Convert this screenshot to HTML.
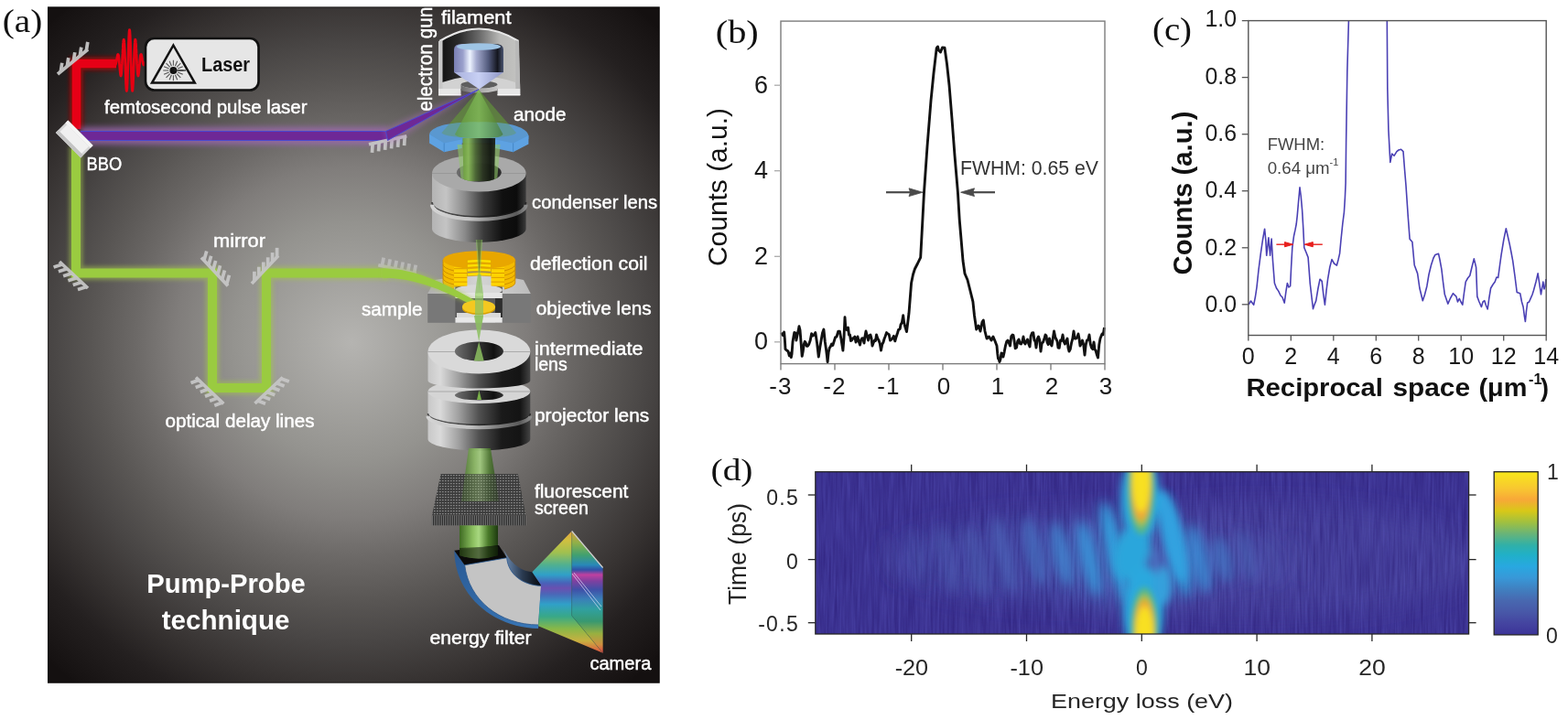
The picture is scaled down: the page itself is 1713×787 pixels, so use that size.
<!DOCTYPE html>
<html><head><meta charset="utf-8"><title>Ultrafast electron microscopy figure</title>
<style>html,body{margin:0;padding:0;background:#fff;width:1713px;height:787px;overflow:hidden}svg{display:block}</style>
</head><body>
<svg width="1713" height="787" viewBox="0 0 1713 787" font-family="'Liberation Sans', Arial, sans-serif">
<defs><radialGradient id="bgA" gradientUnits="userSpaceOnUse" cx="384" cy="374" r="480"><stop offset="0" stop-color="rgb(181, 180, 177)"/><stop offset="0.27" stop-color="rgb(148, 147, 143)"/><stop offset="0.4" stop-color="rgb(128, 125, 123)"/><stop offset="0.49" stop-color="rgb(108, 105, 103)"/><stop offset="0.59" stop-color="rgb(89, 86, 84)"/><stop offset="0.68" stop-color="rgb(73, 70, 69)"/><stop offset="0.78" stop-color="rgb(55, 51, 50)"/><stop offset="0.875" stop-color="rgb(36, 32, 32)"/><stop offset="0.99" stop-color="rgb(22, 18, 18)"/><stop offset="1" stop-color="rgb(20, 16, 16)"/></radialGradient><filter id="glow2" filterUnits="userSpaceOnUse" x="0" y="0" width="1713" height="787"><feGaussianBlur stdDeviation="2"/></filter><filter id="glow1" filterUnits="userSpaceOnUse" x="0" y="0" width="1713" height="787"><feGaussianBlur stdDeviation="0.7"/></filter><filter id="glow3" filterUnits="userSpaceOnUse" x="0" y="0" width="1713" height="787"><feGaussianBlur stdDeviation="3"/></filter><linearGradient id="sideDark" x1="0" y1="0" x2="1" y2="0"><stop offset="0" stop-color="#b4b4b4"/><stop offset="0.15" stop-color="#c4c4c4"/><stop offset="0.35" stop-color="#8a8a8a"/><stop offset="0.55" stop-color="#3a3a3a"/><stop offset="0.75" stop-color="#101010"/><stop offset="0.9" stop-color="#0c0c0c"/><stop offset="1" stop-color="#3a3a3a"/></linearGradient><linearGradient id="sideLight" x1="0" y1="0" x2="1" y2="0"><stop offset="0" stop-color="#c8c8c8"/><stop offset="0.12" stop-color="#dadada"/><stop offset="0.3" stop-color="#a0a0a0"/><stop offset="0.5" stop-color="#505050"/><stop offset="0.72" stop-color="#1a1a1a"/><stop offset="0.9" stop-color="#141414"/><stop offset="1" stop-color="#444"/></linearGradient><linearGradient id="grooveLight" x1="0" y1="0" x2="1" y2="0"><stop offset="0" stop-color="#d4d4d4"/><stop offset="0.4" stop-color="#c4c4c4"/><stop offset="0.7" stop-color="#7a7a7a"/><stop offset="0.9" stop-color="#5a5a5a"/><stop offset="1" stop-color="#8a8a8a"/></linearGradient><linearGradient id="holeG" x1="0" y1="0" x2="1" y2="0"><stop offset="0" stop-color="#707070"/><stop offset="0.4" stop-color="#3a3a3a"/><stop offset="0.8" stop-color="#111"/><stop offset="1" stop-color="#333"/></linearGradient><linearGradient id="gunIn" x1="0" y1="0" x2="1" y2="0"><stop offset="0" stop-color="#101010"/><stop offset="0.25" stop-color="#2a2a2a"/><stop offset="0.5" stop-color="#6a6a6a"/><stop offset="0.75" stop-color="#b8b8b6"/><stop offset="1" stop-color="#c4c4c2"/></linearGradient><linearGradient id="gunHole" x1="0" y1="0" x2="1" y2="0"><stop offset="0" stop-color="#6a6a6a"/><stop offset="0.5" stop-color="#a8a8a8"/><stop offset="1" stop-color="#c8c8c8"/></linearGradient><linearGradient id="filBody" x1="0" y1="0" x2="1" y2="0"><stop offset="0" stop-color="#7a80b4"/><stop offset="0.18" stop-color="#9aa0cc"/><stop offset="0.32" stop-color="#eef4ff"/><stop offset="0.45" stop-color="#a6acd0"/><stop offset="0.7" stop-color="#50587a"/><stop offset="0.88" stop-color="#14161e"/><stop offset="1" stop-color="#4a5470"/></linearGradient><linearGradient id="filCone" x1="0" y1="0" x2="1" y2="0"><stop offset="0" stop-color="#a8b0dc"/><stop offset="0.5" stop-color="#c8d0f4"/><stop offset="1" stop-color="#8c94c4"/></linearGradient><linearGradient id="beamCyl" x1="0" y1="0" x2="1" y2="0"><stop offset="0" stop-color="#3e6a22"/><stop offset="0.35" stop-color="#8cc060"/><stop offset="0.5" stop-color="#a8d880"/><stop offset="0.75" stop-color="#4a7a2a"/><stop offset="1" stop-color="#1e3a10"/></linearGradient><linearGradient id="beamCone" x1="0" y1="0" x2="1" y2="0"><stop offset="0" stop-color="#5c9a34"/><stop offset="0.5" stop-color="#8ed060"/><stop offset="1" stop-color="#3e7020"/></linearGradient><linearGradient id="beamCore" x1="0" y1="0" x2="1" y2="0"><stop offset="0" stop-color="#6c9c40"/><stop offset="0.18" stop-color="#86b656"/><stop offset="0.4" stop-color="#4a6434"/><stop offset="0.62" stop-color="#283020"/><stop offset="0.85" stop-color="#121610"/><stop offset="1" stop-color="#1e261a"/></linearGradient><linearGradient id="anodeSide" x1="0" y1="0" x2="1" y2="0"><stop offset="0" stop-color="#4a88c8"/><stop offset="0.5" stop-color="#3a78b8"/><stop offset="1" stop-color="#5a98d8"/></linearGradient><linearGradient id="prismG" gradientUnits="userSpaceOnUse" x1="0" y1="580" x2="0" y2="714"><stop offset="0" stop-color="#e8a040"/><stop offset="0.08" stop-color="#d0c040"/><stop offset="0.18" stop-color="#a0c050"/><stop offset="0.28" stop-color="#50b090"/><stop offset="0.36" stop-color="#30a0c8"/><stop offset="0.43" stop-color="#4a60b8"/><stop offset="0.47" stop-color="#6a50b0"/><stop offset="0.52" stop-color="#4a68b8"/><stop offset="0.6" stop-color="#30a0c8"/><stop offset="0.7" stop-color="#38a888"/><stop offset="0.8" stop-color="#88b848"/><stop offset="0.9" stop-color="#c8b040"/><stop offset="1" stop-color="#e05040"/></linearGradient><linearGradient id="prismR" gradientUnits="userSpaceOnUse" x1="0" y1="580" x2="0" y2="714"><stop offset="0" stop-color="#d8a040"/><stop offset="0.1" stop-color="#90b048"/><stop offset="0.2" stop-color="#40a070"/><stop offset="0.28" stop-color="#2888b8"/><stop offset="0.32" stop-color="#3050a8"/><stop offset="0.36" stop-color="#c040a0"/><stop offset="0.41" stop-color="#8040a0"/><stop offset="0.48" stop-color="#4050a8"/><stop offset="0.56" stop-color="#3a80b8"/><stop offset="0.64" stop-color="#30a0a0"/><stop offset="0.74" stop-color="#389870"/><stop offset="0.84" stop-color="#98b040"/><stop offset="0.93" stop-color="#d09040"/><stop offset="1" stop-color="#e04040"/></linearGradient><linearGradient id="efBlue" x1="0" y1="0" x2="1" y2="1"><stop offset="0" stop-color="#2a5a94"/><stop offset="1" stop-color="#3a78b8"/></linearGradient><linearGradient id="efInner" x1="0" y1="0" x2="1" y2="0"><stop offset="0" stop-color="#7090b8"/><stop offset="0.5" stop-color="#2a3a50"/><stop offset="1" stop-color="#05080c"/></linearGradient><pattern id="mesh" width="3" height="3" patternUnits="userSpaceOnUse"><rect width="3" height="3" fill="#3c3c3c"/><rect width="1.6" height="1.2" fill="#8a8a8a"/></pattern><pattern id="meshSide" width="2" height="4" patternUnits="userSpaceOnUse"><rect width="2" height="4" fill="#2a2a2a"/><rect width="1" height="4" fill="#707070"/></pattern><linearGradient id="objTop" x1="0" y1="0" x2="1" y2="0"><stop offset="0" stop-color="#b0b0b0"/><stop offset="0.5" stop-color="#d4d4d4"/><stop offset="1" stop-color="#bcbcbc"/></linearGradient></defs>
<rect width="1713" height="787" fill="#fff"/>
<rect x="52" y="7.4" width="668.7" height="739.3" fill="url(#bgA)"/>
<rect x="52.7" y="8.1" width="667.3" height="737.9" fill="none" stroke="#000" stroke-width="1.4" opacity="0.3"/>
<path d="M83.5,141 L83.5,69.5 L127,69.5" fill="none" stroke="#8a0a10" stroke-width="15" stroke-linejoin="miter" filter="url(#glow2)" opacity="0.9"/>
<path d="M83.5,141 L83.5,69.5 L127,69.5" fill="none" stroke="#e60012" stroke-width="9.6" stroke-linejoin="miter" filter="url(#glow1)"/>
<polyline points="124,67.7 124.1,68 124.3,68.4 124.4,68.8 124.6,69.1 124.7,69.5 124.9,69.8 125,70.2 125.2,70.5 125.3,70.7 125.5,70.9 125.6,71 125.8,71.1 125.9,71.1 126.1,70.9 126.2,70.7 126.3,70.4 126.5,70.1 126.6,69.6 126.8,69 126.9,68.4 127.1,67.6 127.2,66.8 127.4,66 127.5,65.1 127.7,64.3 127.8,63.4 128,62.6 128.1,61.8 128.2,61.1 128.4,60.5 128.5,60 128.7,59.6 128.8,59.4 129,59.4 129.1,59.5 129.3,59.9 129.4,60.4 129.6,61.1 129.7,62.1 129.9,63.2 130,64.5 130.2,65.9 130.3,67.5 130.4,69.1 130.6,70.8 130.7,72.6 130.9,74.3 131,76 131.2,77.6 131.3,79 131.5,80.3 131.6,81.4 131.8,82.2 131.9,82.7 132.1,82.9 132.2,82.8 132.3,82.3 132.5,81.5 132.6,80.3 132.8,78.8 132.9,77 133.1,74.9 133.2,72.5 133.4,69.9 133.5,67.1 133.7,64.3 133.8,61.3 134,58.4 134.1,55.6 134.3,52.9 134.4,50.4 134.5,48.2 134.7,46.4 134.8,44.9 135,43.8 135.1,43.3 135.3,43.2 135.4,43.7 135.6,44.7 135.7,46.2 135.9,48.3 136,50.8 136.2,53.7 136.3,57 136.4,60.7 136.6,64.6 136.7,68.6 136.9,72.8 137,76.9 137.2,80.9 137.3,84.7 137.5,88.3 137.6,91.5 137.8,94.2 137.9,96.4 138.1,98.1 138.2,99.1 138.4,99.4 138.5,99.1 138.6,98.2 138.8,96.5 138.9,94.2 139.1,91.3 139.2,87.9 139.4,84 139.5,79.7 139.7,75.1 139.8,70.3 140,65.4 140.1,60.5 140.3,55.7 140.4,51.1 140.5,46.9 140.7,43 140.8,39.7 141,36.9 141.1,34.8 141.3,33.3 141.4,32.6 141.6,32.6 141.7,33.3 141.9,34.8 142,36.9 142.2,39.7 142.3,43 142.5,46.9 142.6,51.1 142.7,55.7 142.9,60.5 143,65.4 143.2,70.3 143.3,75.1 143.5,79.7 143.6,84 143.8,87.9 143.9,91.3 144.1,94.2 144.2,96.5 144.4,98.2 144.5,99.1 144.6,99.4 144.8,99.1 144.9,98.1 145.1,96.4 145.2,94.2 145.4,91.5 145.5,88.3 145.7,84.7 145.8,80.9 146,76.9 146.1,72.8 146.3,68.6 146.4,64.6 146.6,60.7 146.7,57 146.8,53.7 147,50.8 147.1,48.3 147.3,46.2 147.4,44.7 147.6,43.7 147.7,43.2 147.9,43.3 148,43.8 148.2,44.9 148.3,46.4 148.5,48.2 148.6,50.4 148.7,52.9 148.9,55.6 149,58.4 149.2,61.3 149.3,64.3 149.5,67.1 149.6,69.9 149.8,72.5 149.9,74.9 150.1,77 150.2,78.8 150.4,80.3 150.5,81.5 150.7,82.3 150.8,82.8 150.9,82.9 151.1,82.7 151.2,82.2 151.4,81.4 151.5,80.3 151.7,79 151.8,77.6 152,76 152.1,74.3 152.3,72.6 152.4,70.8 152.6,69.1 152.7,67.5 152.8,65.9 153,64.5 153.1,63.2 153.3,62.1 153.4,61.1 153.6,60.4 153.7,59.9 153.9,59.5 154,59.4 154.2,59.4 154.3,59.6 154.5,60 154.6,60.5 154.8,61.1 154.9,61.8 155,62.6 155.2,63.4 155.3,64.3 155.5,65.1 155.6,66 155.8,66.8 155.9,67.6 156.1,68.4 156.2,69 156.4,69.6 156.5,70.1 156.7,70.4 156.8,70.7 156.9,70.9 157.1,71.1 157.2,71.1 157.4,71 157.5,70.9 157.7,70.7 157.8,70.5 158,70.2 158.1,69.8 158.3,69.5 158.4,69.1 158.6,68.8 158.7,68.4 158.9,68 159,67.7" fill="none" stroke="#e60012" stroke-width="2.8" stroke-linejoin="round"/>
<path d="M88,148.5 L423,148.5" fill="none" stroke="#a068b8" stroke-width="19" stroke-linejoin="miter" filter="url(#glow3)" opacity="0.75"/>
<path d="M88,148.5 L423,148.5" fill="none" stroke="#4a4ad0" stroke-width="11" stroke-linejoin="miter"/>
<path d="M88,148.5 L423,148.5" fill="none" stroke="#6e2896" stroke-width="9" stroke-linejoin="miter"/>
<path d="M83,160 L83,298.5 L232,298.5 L232,424 L291,424 L291,298.5 L424,298.5" fill="none" stroke="#a4c450" stroke-width="15" stroke-linejoin="miter" filter="url(#glow2)" opacity="0.55"/>
<path d="M83,160 L83,298.5 L232,298.5 L232,424 L291,424 L291,298.5 L424,298.5" fill="none" stroke="#9acb40" stroke-width="10" stroke-linejoin="miter" filter="url(#glow1)"/>
<g stroke="#c6c6c6" stroke-width="3.7" opacity="0.95" stroke-linecap="butt"><line x1="63" y1="81" x2="96" y2="54"/><line x1="66.3" y1="78.3" x2="67.8" y2="68.8"/><line x1="73.3" y1="72.6" x2="74.8" y2="63.1"/><line x1="80.3" y1="66.8" x2="81.8" y2="57.3"/><line x1="87.3" y1="61.1" x2="88.8" y2="51.6"/><line x1="94.3" y1="55.4" x2="95.8" y2="45.9"/></g>
<g stroke="#c6c6c6" stroke-width="3.7" opacity="0.95" stroke-linecap="butt"><line x1="65" y1="286" x2="96" y2="315"/><line x1="68.1" y1="288.9" x2="58.6" y2="291.9"/><line x1="73.4" y1="293.8" x2="63.9" y2="296.8"/><line x1="78.6" y1="298.8" x2="69.1" y2="301.8"/><line x1="83.9" y1="303.7" x2="74.4" y2="306.7"/><line x1="89.2" y1="308.6" x2="79.7" y2="311.6"/><line x1="94.5" y1="313.6" x2="85" y2="316.6"/></g>
<g stroke="#c6c6c6" stroke-width="3.7" opacity="0.95" stroke-linecap="butt"><line x1="220" y1="281.5" x2="249" y2="312.5"/><line x1="222.9" y1="284.6" x2="225.7" y2="274.5"/><line x1="227.8" y1="289.9" x2="230.6" y2="279.8"/><line x1="232.8" y1="295.1" x2="235.6" y2="285"/><line x1="237.7" y1="300.4" x2="240.5" y2="290.3"/><line x1="242.6" y1="305.7" x2="245.4" y2="295.6"/><line x1="247.6" y1="310.9" x2="250.4" y2="300.8"/></g>
<g stroke="#c6c6c6" stroke-width="3.7" opacity="0.95" stroke-linecap="butt"><line x1="275" y1="310" x2="304" y2="279.5"/><line x1="277.9" y1="306.9" x2="277.9" y2="296.8"/><line x1="282.8" y1="301.8" x2="282.8" y2="291.7"/><line x1="287.8" y1="296.6" x2="287.8" y2="286.5"/><line x1="292.7" y1="291.4" x2="292.7" y2="281.3"/><line x1="297.6" y1="286.2" x2="297.6" y2="276.1"/><line x1="302.6" y1="281" x2="302.6" y2="270.9"/></g>
<g stroke="#c6c6c6" stroke-width="3.7" opacity="0.95" stroke-linecap="butt"><line x1="214" y1="412.5" x2="244.3" y2="441.4"/><line x1="217" y1="415.4" x2="208.5" y2="418.6"/><line x1="222.2" y1="420.3" x2="213.7" y2="423.5"/><line x1="227.3" y1="425.2" x2="218.8" y2="428.4"/><line x1="232.5" y1="430.1" x2="224" y2="433.3"/><line x1="237.6" y1="435" x2="229.1" y2="438.2"/><line x1="242.8" y1="440" x2="234.3" y2="443.2"/></g>
<g stroke="#c6c6c6" stroke-width="3.7" opacity="0.95" stroke-linecap="butt"><line x1="278.5" y1="441" x2="308.8" y2="412.5"/><line x1="281.5" y1="438.1" x2="290" y2="441.3"/><line x1="286.7" y1="433.3" x2="295.2" y2="436.5"/><line x1="291.8" y1="428.5" x2="300.3" y2="431.7"/><line x1="297" y1="423.6" x2="305.5" y2="426.8"/><line x1="302.1" y1="418.8" x2="310.6" y2="422"/><line x1="307.3" y1="413.9" x2="315.8" y2="417.1"/></g>
<g stroke="#c6c6c6" stroke-width="3.7" opacity="0.95" stroke-linecap="butt"><line x1="403" y1="157.7" x2="444.3" y2="148.7"/><line x1="407.1" y1="156.8" x2="406.5" y2="166.9"/><line x1="414.2" y1="155.3" x2="413.6" y2="165.4"/><line x1="421.2" y1="153.7" x2="420.6" y2="163.8"/><line x1="428.2" y1="152.2" x2="427.6" y2="162.3"/><line x1="435.2" y1="150.7" x2="434.6" y2="160.8"/><line x1="442.2" y1="149.1" x2="441.6" y2="159.2"/></g>
<g stroke="#c6c6c6" stroke-width="3.7" opacity="0.7" stroke-linecap="butt"><line x1="413.3" y1="289.7" x2="454.6" y2="299.2"/><line x1="417.4" y1="290.6" x2="419.1" y2="281.6"/><line x1="424.5" y1="292.3" x2="426.2" y2="283.3"/><line x1="431.5" y1="293.9" x2="433.2" y2="284.9"/><line x1="438.5" y1="295.5" x2="440.2" y2="286.5"/><line x1="445.5" y1="297.1" x2="447.2" y2="288.1"/><line x1="452.5" y1="298.7" x2="454.2" y2="289.7"/></g>
<g transform="rotate(45 81.25 152)"><rect x="61.9" y="142.5" width="38.7" height="19" fill="#d6d6d6"/><rect x="61.9" y="142.5" width="38.7" height="4" fill="#f4f4f4"/><rect x="61.9" y="157.5" width="38.7" height="4" fill="#c4c4c4"/><rect x="64.5" y="146.5" width="33.5" height="11" fill="#f0f0f0"/></g>
<rect x="159" y="42" width="123.5" height="56.5" rx="9.5" fill="#e6e6e6" stroke="#111" stroke-width="2.6"/>
<path d="M189.4,49.5 L212.8,90.6 L166,90.6 Z" fill="none" stroke="#111" stroke-width="2.5" stroke-linejoin="miter"/>
<path d="M194.6,77 L200.6,77 M194.2,79 L199.7,81.3 M193.1,80.7 L197.3,84.9 M191.4,81.8 L193.7,87.3 M189.4,82.2 L189.4,88.2 M187.4,81.8 L185.1,87.3 M185.7,80.7 L181.5,84.9 M184.6,79 L179.1,81.3 M184.2,77 L178.2,77 M184.6,75 L179.1,72.7 M185.7,73.3 L181.5,69.1 M187.4,72.2 L185.1,66.7 M189.4,71.8 L189.4,65.8 M191.4,72.2 L193.7,66.7 M193.1,73.3 L197.3,69.1 M194.2,75 L199.7,72.7" stroke="#555" stroke-width="1.1" fill="none"/>
<circle cx="189.4" cy="77" r="4" fill="#111"/>
<path d="M189.4,77 L203,77" stroke="#222" stroke-width="1.2"/>
<text x="220" y="78.3" font-size="22.5" fill="#111" font-weight="bold" textLength="53" lengthAdjust="spacingAndGlyphs">Laser</text>
<path d="M479,97 L480.3,45 Q523,18 566.5,45 L568.3,97 Z" fill="url(#gunIn)"/>
<path d="M480.3,45 Q523,18 566.5,45" fill="none" stroke="#e8e8e8" stroke-width="2.2"/>
<path d="M483,90 Q523,76 563,90 L563.5,97 L483,97 Z" fill="#d2d2d2"/>
<ellipse cx="523.5" cy="92.5" rx="20" ry="4.2" fill="#5e5e5e"/>
<path d="M479,45 L483.5,44 L483.5,97 L479,104 Z" fill="#c8c8c8"/>
<path d="M563,44 L567,45 L568.3,104 L563.5,97 Z" fill="#b8b8b8"/>
<path d="M479,97 L503.5,97 L503.5,104 L479,104 Z M543.5,97 L568.3,97 L568.3,104 L543.5,104 Z" fill="#e6e6e6"/>
<path d="M479,103 L503.5,103 L503.5,104.5 L479,104.5 Z M543.5,103 L568.3,103 L568.3,104.5 L543.5,104.5 Z" fill="#fafafa"/>
<path d="M503.5,92.5 A20,4.2 0 0 0 543.5,92.5 L543.5,99 Q523.5,104 503.5,99 Z" fill="url(#gunHole)"/>
<path d="M496,54 Q496,48 505,48 L541,48 Q550,48 550,54 L550,79 L496,79 Z" fill="url(#filBody)"/>
<ellipse cx="523" cy="51" rx="24" ry="3.8" fill="#9ec4e4"/>
<path d="M496,79 L550,79 L523.5,97.5 Z" fill="url(#filCone)"/>
<path d="M420,141 L523,97 L426,158 Z" fill="#b070c0" filter="url(#glow3)" opacity="0.45"/>
<path d="M421.5,143.5 L523,97.8 L423.5,153.5 Z" fill="#6e2896" stroke="#4a4ad0" stroke-width="1"/>
<path d="M523,98 L564,145.3 A41,6 0 0 1 482.4,145.3 Z" fill="#5a8a34" opacity="0.5"/>
<path d="M469.1,146.7 L469.1,151 L485.2,160.5 L504.7,156.3 L541,156.3 L560.6,160.5 L577.4,152 L577.4,148 Z" fill="#4e90d8"/>
<path d="M469.1,146.7 C472,136 500,133 523,133.4 C548,133 575,137 577.4,148 L560.6,156.5 L541,152.3 L504.7,152.3 L485.2,156.5 Z" fill="#5a98d0"/>
<path d="M523,98 L564,145.3 A41,6 0 0 1 482.4,145.3 Z" fill="#6a9a40" opacity="0.35"/>
<path d="M523,98 L549.5,146.7 A26.3,5.5 0 0 1 497,146.7 Z" fill="url(#beamCone)" opacity="0.6"/>
<path d="M469.1,146.7 L485.2,156.5 L504.7,152.3 L504.7,162 L485.2,166.3 L469.1,156.5 Z" fill="#5ea2e2"/>
<path d="M541,152.3 L560.6,156.5 L577.4,148 L577.4,157.5 L560.6,166.3 L541,162 Z" fill="#5ea2e2"/>
<path d="M485.2,156.5 L485.2,166.3" stroke="#3f80c0" stroke-width="0.8"/><path d="M560.6,156.5 L560.6,166.3" stroke="#3f80c0" stroke-width="0.8"/>
<path d="M472,189.4 L472,250 A51.3,15 0 0 0 574.6,250 L574.6,189.4 Z" fill="url(#sideDark)"/><path d="M472,221 A51.3,16 0 0 0 574.6,221" fill="none" stroke="#1a1a1a" stroke-width="1.6" opacity="0.7"/><path d="M472,223.8 A51.3,16 0 0 0 574.6,223.8" fill="none" stroke="url(#grooveLight)" stroke-width="4"/><ellipse cx="523.3" cy="189.4" rx="51.3" ry="20" fill="#a9a9a9"/><line x1="472" y1="189.4" x2="574.6" y2="189.4" stroke="#888" stroke-width="0.8" opacity="0.7"/><ellipse cx="523.3" cy="188.5" rx="24.5" ry="10.2" fill="url(#holeG)"/>
<clipPath id="condClip"><rect x="400" y="100" width="200" height="88.5"/><ellipse cx="523.3" cy="188.5" rx="24.5" ry="10.2"/></clipPath>
<g clip-path="url(#condClip)">
<path d="M499.5,158 L546.5,158 L543,198 L504,198 Z" fill="#90c868" opacity="0.6"/>
<path d="M505.4,151 L541.1,151 L540,198 L506.5,198 Z" fill="url(#beamCore)" opacity="0.95"/>
</g>
<path d="M467.2,321 L475,306 Q523.5,296 572,306 L579.8,321 Z" fill="url(#objTop)"/>
<rect x="467.2" y="321" width="112.6" height="31.8" fill="#787878"/>
<rect x="497.4" y="313" width="51.4" height="39.8" fill="#5c5c5c"/>
<ellipse cx="523.1" cy="317" rx="25.7" ry="6" fill="#d8d8d8"/>
<rect x="497.4" y="320" width="51.4" height="6" fill="#e4e4e4"/>
<rect x="541" y="326" width="7.8" height="26.8" fill="#2e2e2e"/>
<rect x="499" y="342" width="48" height="5" fill="#dadada"/><rect x="497.4" y="347" width="51.4" height="5.8" fill="#e8e8e8"/>
<defs><pattern id="coilStripe" width="10" height="4.8" patternUnits="userSpaceOnUse" y="294.2"><rect width="10" height="4.8" fill="#ffd400"/><rect y="3.9" width="10" height="0.9" fill="#d89400"/></pattern></defs>
<clipPath id="coilClip"><rect x="0" y="0" width="496" height="787"/><rect x="551" y="0" width="300" height="787"/><rect x="0" y="0" width="1713" height="293.5"/></clipPath>
<g clip-path="url(#coilClip)">
<path d="M484,304 L484,309 A39.4,9.8 0 0 0 562.8,309 L562.8,304 Z" fill="#f4bc00" stroke="#c88a00" stroke-width="0.9"/>
<path d="M484,299 L484,304 A39.4,9.8 0 0 0 562.8,304 L562.8,299 Z" fill="#f4bc00" stroke="#c88a00" stroke-width="0.9"/>
<path d="M484,294 L484,299 A39.4,9.8 0 0 0 562.8,299 L562.8,294 Z" fill="#f4bc00" stroke="#c88a00" stroke-width="0.9"/>
<path d="M484,289 L484,294 A39.4,9.8 0 0 0 562.8,294 L562.8,289 Z" fill="#f4bc00" stroke="#c88a00" stroke-width="0.9"/>
<path d="M484,284 L484,289 A39.4,9.8 0 0 0 562.8,289 L562.8,284 Z" fill="#f4bc00" stroke="#c88a00" stroke-width="0.9"/>
<ellipse cx="523.4" cy="284" rx="39.4" ry="9.8" fill="#e8a600"/>
</g>
<path d="M496,292 L510.4,293.5 L510.4,312.5 L496,313.8 Z" fill="url(#coilStripe)"/>
<path d="M536.5,293.5 L551,292 L551,313.8 L536.5,312.5 Z" fill="url(#coilStripe)"/>
<path d="M510.4,284.2 Q523.4,282.6 536.5,284.2 L536.5,287.4 Q523.4,286 510.4,287.4 Z" fill="#ffe000" stroke="#d89a00" stroke-width="0.6"/>
<path d="M510.4,289 Q523.4,287.4 536.5,289 L536.5,292.2 Q523.4,290.8 510.4,292.2 Z" fill="#ffe000" stroke="#d89a00" stroke-width="0.6"/>
<path d="M510.4,293.8 Q523.4,292.2 536.5,293.8 L536.5,297 Q523.4,295.6 510.4,297 Z" fill="#ffe000" stroke="#d89a00" stroke-width="0.6"/>
<path d="M510.4,298.6 Q523.4,297 536.5,298.6 L536.5,301.8 Q523.4,300.4 510.4,301.8 Z" fill="#ffe000" stroke="#d89a00" stroke-width="0.6"/>
<path d="M519.8,262 L527.2,262 L523.6,318 Z" fill="#8cc060" opacity="0.55"/>
<path d="M521.2,262 L525.8,262 L523.6,300 Z" fill="#3a4a2a" opacity="0.5"/>
<path d="M418,292 C448,292 478,303 521,328.5 L519,336.5 C484,318 454,305.5 418,305 Z" fill="#a4c450" opacity="0.5" filter="url(#glow2)"/>
<path d="M418,293.5 C448,293.5 478,304.5 520.5,329.5 L519,335 C484,317 454,304 418,303.5 Z" fill="#9acb40" filter="url(#glow1)"/>
<ellipse cx="523" cy="337" rx="18" ry="7.2" fill="#d8a000"/>
<ellipse cx="523" cy="335.3" rx="18" ry="7.2" fill="#f4c820"/>
<path d="M521.8,300 L525.4,300 L528,322 L528,345 L526.8,353 L520,353 L519,345 L519,322 Z" fill="#8cc060" opacity="0.72"/>
<ellipse cx="523.5" cy="322" rx="4.5" ry="1.8" fill="#b8e090" opacity="0.8"/>
<path d="M467.5,428 L467.5,480 A55.9,12.4 0 0 0 579.3,480 L579.3,428 Z" fill="url(#sideLight)"/><path d="M467.5,452 A55.9,12.4 0 0 0 579.3,452" fill="none" stroke="#1a1a1a" stroke-width="1.6" opacity="0.7"/><path d="M467.5,454.8 A55.9,12.4 0 0 0 579.3,454.8" fill="none" stroke="url(#grooveLight)" stroke-width="4"/><ellipse cx="523.4" cy="428" rx="55.9" ry="13" fill="#d5d5d5"/><line x1="467.5" y1="428" x2="579.3" y2="428" stroke="#888" stroke-width="0.8" opacity="0.7"/><ellipse cx="523.4" cy="432" rx="26.5" ry="5.5" fill="url(#holeG)"/>
<path d="M523.4,426.5 L526,437 L521,437 Z" fill="#7ab04a"/>
<path d="M467.5,384.5 L467.5,416 A55.9,8.5 0 0 0 579.3,416 L579.3,384.5 Z" fill="url(#sideLight)"/><ellipse cx="523.4" cy="384.5" rx="55.9" ry="24" fill="#d9d9d9"/><line x1="467.5" y1="384.5" x2="579.3" y2="384.5" stroke="#888" stroke-width="0.8" opacity="0.7"/><ellipse cx="523.4" cy="384" rx="26.6" ry="10.5" fill="url(#holeG)"/>
<path d="M517.9,345 L528,345 L523.2,373.6 Z" fill="#8cc060" opacity="0.85"/>
<path d="M523.2,373.6 L517.9,394.6 L528.7,394.6 Z" fill="#8cc060" opacity="0.85"/>
<path d="M512,490 L536,490 L545,548 L504,548 Z" fill="url(#beamCyl)" opacity="0.8"/>
<path d="M481.6,518.1 L565.9,518.1 L574.5,563.5 L471.9,563.5 Z" fill="url(#mesh)"/>
<rect x="471.9" y="563.5" width="102.6" height="10.8" fill="url(#meshSide)"/>
<path d="M508,518.1 L541,518.1 L545,548 L504,548 Z" fill="url(#beamCyl)" opacity="0.35"/>
<rect x="502" y="574.3" width="42" height="32" fill="url(#beamCyl)"/>
<path d="M496.3,601.7 L507.7,617.7 C512,655 545,683 588.4,683 L588,687 C540,686 497,652 496.3,601.7 Z" fill="url(#efBlue)"/>
<path d="M496.3,601.7 L545,596 L553.7,609.7 L507.7,617.7 Z" fill="#0a0a0a"/>
<path d="M502,599 L544,597 L544,607 Q523,614 502,607 Z" fill="url(#beamCyl)" opacity="0.9"/>
<path d="M502,599 L544,597 L544,607 Q523,614 502,607 Z" fill="#000" opacity="0.45"/>
<path d="M553.7,609.7 C555,628 572,640 591.7,640.4 L581.4,625.2 C566,624 556,612 550,600 Z" fill="url(#efInner)"/>
<path d="M507.7,617.7 L553.7,609.7 C555,628 572,640 591.7,640.4 L588.4,683 C545,683 512,655 507.7,617.7 Z" fill="#c4c4c4" stroke="#2a5a94" stroke-width="0.8"/>
<path d="M624.7,580.5 L581.4,625.2 L591,639.5 L588.1,684.3 L658.6,713.8 L624.7,673 Z" fill="url(#prismG)"/>
<path d="M624.7,580.5 L658.6,620.5 L658.6,713.8 L624.7,673 Z" fill="url(#prismR)"/>
<path d="M624.7,580.5 L624.7,673 L658.6,713.8" fill="none" stroke="#2a6a60" stroke-width="0.6" opacity="0.5"/>
<path d="M624.7,580.5 L658.6,620.5" stroke="#cfcfcf" stroke-width="1.2"/>
<path d="M625,627 L656,667 M627,626 L657,663" stroke="#e8e8ff" stroke-width="0.8" opacity="0.8"/>
<text x="114" y="124" font-size="20.5" fill="#fff" stroke="#fff" stroke-width="0.45" textLength="221.5" lengthAdjust="spacingAndGlyphs">femtosecond pulse laser</text>
<text x="94.6" y="185.8" font-size="20.5" fill="#fff" stroke="#fff" stroke-width="0.45" textLength="38.5" lengthAdjust="spacingAndGlyphs">BBO</text>
<text x="233" y="270.3" font-size="20.5" fill="#fff" stroke="#fff" stroke-width="0.45" textLength="57" lengthAdjust="spacingAndGlyphs">mirror</text>
<text x="180.5" y="467" font-size="20.5" fill="#fff" stroke="#fff" stroke-width="0.45" textLength="163" lengthAdjust="spacingAndGlyphs">optical delay lines</text>
<text x="395" y="345" font-size="20.5" fill="#fff" stroke="#fff" stroke-width="0.45" textLength="66.5" lengthAdjust="spacingAndGlyphs">sample</text>
<text x="482" y="26.3" font-size="20.5" fill="#fff" stroke="#fff" stroke-width="0.45" textLength="76.5" lengthAdjust="spacingAndGlyphs">filament</text>
<text transform="translate(472.3,121.8) rotate(-90)" font-size="22.5" fill="#fff" stroke="#fff" stroke-width="0.45" textLength="114" lengthAdjust="spacingAndGlyphs">electron gun</text>
<text x="561" y="131.6" font-size="20.5" fill="#fff" stroke="#fff" stroke-width="0.45" textLength="57.5" lengthAdjust="spacingAndGlyphs">anode</text>
<text x="581.1" y="227.7" font-size="20.5" fill="#fff" stroke="#fff" stroke-width="0.45" textLength="137" lengthAdjust="spacingAndGlyphs">condenser lens</text>
<text x="578.9" y="294.9" font-size="20.5" fill="#fff" stroke="#fff" stroke-width="0.45" textLength="128.5" lengthAdjust="spacingAndGlyphs">deflection coil</text>
<text x="585.7" y="343.8" font-size="20.5" fill="#fff" stroke="#fff" stroke-width="0.45" textLength="126" lengthAdjust="spacingAndGlyphs">objective lens</text>
<text x="583.9" y="388.3" font-size="20.5" fill="#fff" stroke="#fff" stroke-width="0.45" textLength="118.5" lengthAdjust="spacingAndGlyphs">intermediate</text>
<text x="583.9" y="405.2" font-size="20.5" fill="#fff" stroke="#fff" stroke-width="0.45" textLength="35.8" lengthAdjust="spacingAndGlyphs">lens</text>
<text x="583.9" y="461.1" font-size="20.5" fill="#fff" stroke="#fff" stroke-width="0.45" textLength="125.3" lengthAdjust="spacingAndGlyphs">projector lens</text>
<text x="583.9" y="543.9" font-size="20.5" fill="#fff" stroke="#fff" stroke-width="0.45" textLength="102.5" lengthAdjust="spacingAndGlyphs">fluorescent</text>
<text x="583.9" y="561.7" font-size="20.5" fill="#fff" stroke="#fff" stroke-width="0.45" textLength="59" lengthAdjust="spacingAndGlyphs">screen</text>
<text x="469.4" y="703.5" font-size="20.5" fill="#fff" stroke="#fff" stroke-width="0.45" textLength="111.3" lengthAdjust="spacingAndGlyphs">energy filter</text>
<text x="644.4" y="731.6" font-size="20.5" fill="#fff" stroke="#fff" stroke-width="0.45" textLength="67" lengthAdjust="spacingAndGlyphs">camera</text>
<text x="160.2" y="648.1" font-size="29.5" fill="#fff" font-weight="bold" textLength="173.5" lengthAdjust="spacingAndGlyphs">Pump-Probe</text>
<text x="176.7" y="688.1" font-size="29.5" fill="#fff" font-weight="bold" textLength="139.8" lengthAdjust="spacingAndGlyphs">technique</text>
<text x="2.8" y="34.5" font-family="'Liberation Serif', serif" font-size="36.5" fill="#111" textLength="43.5" lengthAdjust="spacingAndGlyphs">(a)</text>
<polyline points="853.8,363.6 854.5,365.5 855.2,366.4 855.9,366.7 856.6,362.9 857.3,370.2 858,381.7 859.5,383 861,384 862.3,388.9 863.6,386 864.3,390.6 865,387.3 866,373.8 867,367.8 867.8,363.5 868.5,365 869.2,364 869.9,372 871,366.5 872,362.2 873,356.8 874,360.8 875.1,374.7 876.2,389.4 877.2,384.3 878.3,376.2 879.3,373.3 880.3,374.8 881.3,378.3 882.4,378.3 883.8,376.1 885.2,372 886.6,364.7 888,367 889.4,365.9 890.8,363.6 892.5,374.4 894.3,390.1 895.7,380.2 897.1,372 898.5,363.9 899.9,360.1 901.3,373.5 902.7,383.1 903.4,388.8 904.1,395.7 905.2,384.6 906.2,380.3 907.4,378.6 908.5,376 909.8,377.5 911.1,373.4 912.5,368.8 914,368 915.7,362.3 917.4,362.2 919.1,371.5 920.9,383.1 922,369.3 923,346.8 923.8,358.2 924.5,360 925.5,360.7 926.5,358 927.5,366 928.5,366 929.5,372.5 930.5,372 931.5,369.8 932.5,370 933.8,367.9 935,374 936,372.5 937,368 938.2,373.1 939.5,377 940.5,372.1 941.5,370 942.8,369.8 944,375 945,367.6 946,362 947.2,366.7 948.5,372 949.8,366.7 951,366 952,369.9 953,378 954.2,374.6 955.5,372 956.5,372.6 957.5,366 958.8,369.9 960,372 961.2,375.3 962.5,383 963.8,376.3 965,374 966,370.5 967,368 968.5,363.6 970,365 971.2,365.5 972.5,372 973.8,371.1 975,370 976.4,367.3 977.8,372.8 979.1,368.2 980.5,364 981.5,360.6 982.5,360 983.2,359.6 984,355 985.4,352.4 986.7,344.8 987.6,352.3 988.5,356 990.5,362.6 993,342.3 995.6,309.2 997.5,300 999.4,294 1002.5,288 1005.7,281.3 1007.5,248 1009.5,210.2 1013,160 1017,110 1020,80 1023.2,52.7 1024.5,51 1025.5,55 1027.5,57 1029.5,52 1032,52.2 1034.5,70 1037,93 1040,130 1043,170 1046.4,210.2 1048.2,240 1050.2,263.5 1052,285 1054,299 1057,306 1060,318 1062.9,329.6 1064.5,345 1066.7,360 1069,356 1071,362 1073,352 1074.3,350 1076,362 1078,370 1080.5,368 1083,372 1085,368 1087,372.8 1089,378 1089.8,386.9 1090.5,392 1091.2,392.5 1092,395.6 1093,392.5 1094,386 1095,386.4 1096,390 1097.2,384.6 1098.5,377.8 1099.8,373.2 1101,372 1102.2,374.5 1103.5,378 1104.8,367.6 1106,366 1107,366.4 1108,372 1109.2,380.7 1110.5,380 1111.8,372.8 1113,371 1114.2,375.4 1115.5,376 1116.8,373.5 1118,368 1119,374.2 1120,376 1121.2,373.3 1122.5,371 1123.8,376 1125,379 1126.2,367.2 1127.5,364 1128.8,363.7 1130,372 1131,373 1132,380 1133.2,370.5 1134.5,368 1135.8,372 1137,384 1138.2,375.3 1139.5,374 1140.8,370.5 1142,366 1143,366.9 1144,374 1145.2,376.5 1146.5,370 1147.8,375.8 1149,378 1150.2,370.4 1151.5,362 1152.8,368.6 1154,371 1155,373.1 1156,380 1157.2,380.3 1158.5,372 1159.8,372.4 1161,366 1162.2,373.3 1163.5,376 1164.8,372.8 1166,370 1167,380.4 1168,384 1169.2,381.9 1170.5,375 1171.8,370.1 1173,362 1174.2,370.1 1175.5,370 1176.8,368.8 1178,365 1179,370.2 1180,378 1181.2,375.5 1182.5,372 1183.8,377 1185,388 1186.2,376.9 1187.5,372 1188.8,371.3 1190,366 1191.2,375.8 1192.5,380 1193.8,381.7 1195,374 1196,382 1197,383 1198.2,387.4 1199.5,391 1200.8,376.4 1202,370 1203,367.4 1204,365 1205.2,365.8 1206.5,358" fill="none" stroke="#111" stroke-width="2.9" stroke-linejoin="round"/>
<rect x="853" y="23.1" width="354" height="374.5" fill="none" stroke="#7c7c7c" stroke-width="1.4"/>
<line x1="853" y1="397.6" x2="853" y2="404.6" stroke="#777" stroke-width="1.3"/>
<text x="853" y="430.7" font-size="26" text-anchor="middle" fill="#1a1a1a" letter-spacing="1.2">-3</text>
<line x1="912" y1="397.6" x2="912" y2="404.6" stroke="#777" stroke-width="1.3"/>
<text x="912" y="430.7" font-size="26" text-anchor="middle" fill="#1a1a1a" letter-spacing="1.2">-2</text>
<line x1="971" y1="397.6" x2="971" y2="404.6" stroke="#777" stroke-width="1.3"/>
<text x="971" y="430.7" font-size="26" text-anchor="middle" fill="#1a1a1a" letter-spacing="1.2">-1</text>
<line x1="1030" y1="397.6" x2="1030" y2="404.6" stroke="#777" stroke-width="1.3"/>
<text x="1031" y="430.7" font-size="26" text-anchor="middle" fill="#1a1a1a" letter-spacing="0">0</text>
<line x1="1089" y1="397.6" x2="1089" y2="404.6" stroke="#777" stroke-width="1.3"/>
<text x="1090" y="430.7" font-size="26" text-anchor="middle" fill="#1a1a1a" letter-spacing="0">1</text>
<line x1="1148" y1="397.6" x2="1148" y2="404.6" stroke="#777" stroke-width="1.3"/>
<text x="1149" y="430.7" font-size="26" text-anchor="middle" fill="#1a1a1a" letter-spacing="0">2</text>
<line x1="1207" y1="397.6" x2="1207" y2="404.6" stroke="#777" stroke-width="1.3"/>
<text x="1208" y="430.7" font-size="26" text-anchor="middle" fill="#1a1a1a" letter-spacing="0">3</text>
<line x1="846" y1="373.8" x2="853" y2="373.8" stroke="#aaa" stroke-width="1.3"/>
<text x="839" y="382.3" font-size="27" text-anchor="end" fill="#1a1a1a">0</text>
<line x1="846" y1="280.3" x2="853" y2="280.3" stroke="#aaa" stroke-width="1.3"/>
<text x="839" y="288.8" font-size="27" text-anchor="end" fill="#1a1a1a">2</text>
<line x1="846" y1="186.7" x2="853" y2="186.7" stroke="#aaa" stroke-width="1.3"/>
<text x="839" y="195.2" font-size="27" text-anchor="end" fill="#1a1a1a">4</text>
<line x1="846" y1="93.2" x2="853" y2="93.2" stroke="#aaa" stroke-width="1.3"/>
<text x="839" y="101.7" font-size="27" text-anchor="end" fill="#1a1a1a">6</text>
<g stroke="#4a4a4a" fill="#4a4a4a"><line x1="968" y1="210.2" x2="1000" y2="210.2" stroke-width="2.2"/><path d="M1008,210.2 L993,205.8 L994.5,210.2 L993,214.6 Z" stroke-width="0.8"/><line x1="1057" y1="210.2" x2="1087" y2="210.2" stroke-width="2.2"/><path d="M1049.5,210.2 L1064.5,205.8 L1063,210.2 L1064.5,214.6 Z" stroke-width="0.8"/></g>
<text x="1049" y="191.3" font-size="22.9" fill="#333" textLength="151" lengthAdjust="spacingAndGlyphs">FWHM: 0.65 eV</text>
<text transform="translate(793.6,291) rotate(-90)" font-size="30" fill="#111" textLength="173" lengthAdjust="spacingAndGlyphs">Counts (a.u.)</text>
<text x="781.8" y="46.8" font-family="'Liberation Serif', 'Times New Roman', serif" font-size="36.5" fill="#111" textLength="47" lengthAdjust="spacingAndGlyphs">(b)</text>
<polyline points="1364,333 1366.5,329 1368,331 1369.7,333.2 1371.5,324 1373,313.8 1375,295 1377.3,277.1 1379.5,262 1381.6,250.2 1382.8,262 1383.7,279.3 1385,268 1385.9,259.9 1386.8,270 1387.6,279.3 1388.4,270 1389.1,261 1390.5,285 1392.4,309.5 1394.5,315 1396.7,318.1 1399,323 1401,325 1403.2,331.1 1405,318 1406.4,309.5 1408,314 1409.6,312.7 1410.6,292 1411.8,270.7 1413.5,258 1415,251.2 1416.2,245 1417.2,236.1 1418.6,220 1420,204.8 1421.3,215 1422.6,229.6 1423.8,250 1424.8,270.7 1427,276 1429.1,281.4 1430.2,296 1431.2,309.5 1433,325 1434.5,337.6 1436,333 1437.7,328.9 1440,315 1442,305.2 1444.2,307.3 1445.8,322 1447.4,333.2 1449,318 1450.6,305.2 1452.8,292 1455,283.6 1457.5,288 1460.4,290.1 1462,284 1463.6,277.1 1465,262 1466.8,244.7 1468.4,232 1469.4,216 1470.1,200 1470.6,156.2 1471.8,78.5 1473.4,22.6" fill="none" stroke="#4a40b4" stroke-width="1.6" stroke-linejoin="round"/>
<polyline points="1515.3,22.6 1515.8,96.2 1516.9,142 1518.8,177.4 1520.7,168 1523,170.3 1525.9,165.6 1528,164 1530.6,163.2 1533,165.6 1534.5,185 1536,203 1538.3,237.2 1540.1,261.2 1542.9,264.6 1545.2,289.8 1548.6,298.9 1550.9,315 1554.3,328.7 1556.5,322 1558.9,312.7 1561,300 1563.5,289.8 1566,282 1568,278.4 1571.5,277.2 1573,284 1574.9,294.4 1576.5,308 1578.3,321.8 1581.8,332.1 1584.5,326 1587.5,320.7 1590.9,324.1 1592.5,330 1594.3,326.4 1596,330 1597.8,333.2 1599.5,320 1601.2,308.1 1603.5,304 1605.8,301.2 1608,292 1610.3,282.9 1612.6,292.1 1613.8,324.1 1616,330 1618.4,335.5 1620,330 1621.8,328.7 1623.5,334 1625.2,337.8 1626.8,326 1628.6,315 1631,311 1633.2,308.1 1635,303 1636.7,303.5 1638.5,290 1640.1,278.4 1642.8,262 1645.3,249.8 1647.2,258 1649.2,266.9 1651,276 1652.7,285.2 1655,302 1657.2,319.5 1660.7,320.7 1662.5,330 1664.1,335.5 1665.3,345 1666.4,351.5 1667.5,340 1668.7,331 1670.5,330 1672.1,326.4 1674,322 1675.5,317.2 1678,308 1680.1,298.9 1681.8,310 1683.5,321.8 1685.8,308.1 1687,316 1688.1,312.7 1689,305" fill="none" stroke="#4a40b4" stroke-width="1.6" stroke-linejoin="round"/>
<rect x="1363.8" y="22.6" width="325.4" height="343.9" fill="none" stroke="#555" stroke-width="1.4"/>
<line x1="1363.8" y1="366.5" x2="1363.8" y2="372.5" stroke="#555" stroke-width="1.3"/>
<text x="1363.8" y="398" font-size="25" text-anchor="middle" fill="#1a1a1a">0</text>
<line x1="1410.3" y1="366.5" x2="1410.3" y2="372.5" stroke="#555" stroke-width="1.3"/>
<text x="1410.3" y="398" font-size="25" text-anchor="middle" fill="#1a1a1a">2</text>
<line x1="1456.8" y1="366.5" x2="1456.8" y2="372.5" stroke="#555" stroke-width="1.3"/>
<text x="1456.8" y="398" font-size="25" text-anchor="middle" fill="#1a1a1a">4</text>
<line x1="1503.3" y1="366.5" x2="1503.3" y2="372.5" stroke="#555" stroke-width="1.3"/>
<text x="1503.3" y="398" font-size="25" text-anchor="middle" fill="#1a1a1a">6</text>
<line x1="1549.7" y1="366.5" x2="1549.7" y2="372.5" stroke="#555" stroke-width="1.3"/>
<text x="1549.7" y="398" font-size="25" text-anchor="middle" fill="#1a1a1a">8</text>
<line x1="1596.2" y1="366.5" x2="1596.2" y2="372.5" stroke="#555" stroke-width="1.3"/>
<text x="1596.2" y="398" font-size="25" text-anchor="middle" fill="#1a1a1a">10</text>
<line x1="1642.7" y1="366.5" x2="1642.7" y2="372.5" stroke="#555" stroke-width="1.3"/>
<text x="1642.7" y="398" font-size="25" text-anchor="middle" fill="#1a1a1a">12</text>
<line x1="1689.2" y1="366.5" x2="1689.2" y2="372.5" stroke="#555" stroke-width="1.3"/>
<text x="1689.2" y="398" font-size="25" text-anchor="middle" fill="#1a1a1a">14</text>
<line x1="1356.8" y1="332.8" x2="1363.8" y2="332.8" stroke="#555" stroke-width="1.3"/>
<text x="1351" y="341" font-size="25" text-anchor="end" fill="#1a1a1a" textLength="34.5" lengthAdjust="spacingAndGlyphs">0.0</text>
<line x1="1356.8" y1="270.8" x2="1363.8" y2="270.8" stroke="#555" stroke-width="1.3"/>
<text x="1351" y="278.6" font-size="25" text-anchor="end" fill="#1a1a1a" textLength="34.5" lengthAdjust="spacingAndGlyphs">0.2</text>
<line x1="1356.8" y1="208.7" x2="1363.8" y2="208.7" stroke="#555" stroke-width="1.3"/>
<text x="1351" y="216.3" font-size="25" text-anchor="end" fill="#1a1a1a" textLength="34.5" lengthAdjust="spacingAndGlyphs">0.4</text>
<line x1="1356.8" y1="146.7" x2="1363.8" y2="146.7" stroke="#555" stroke-width="1.3"/>
<text x="1351" y="153.9" font-size="25" text-anchor="end" fill="#1a1a1a" textLength="34.5" lengthAdjust="spacingAndGlyphs">0.6</text>
<line x1="1356.8" y1="84.6" x2="1363.8" y2="84.6" stroke="#555" stroke-width="1.3"/>
<text x="1351" y="91.5" font-size="25" text-anchor="end" fill="#1a1a1a" textLength="34.5" lengthAdjust="spacingAndGlyphs">0.8</text>
<line x1="1356.8" y1="22.6" x2="1363.8" y2="22.6" stroke="#555" stroke-width="1.3"/>
<text x="1351" y="29" font-size="25" text-anchor="end" fill="#1a1a1a" textLength="34.5" lengthAdjust="spacingAndGlyphs">1.0</text>
<g stroke="#e8201e" fill="#e8201e"><line x1="1394.4" y1="267.2" x2="1405" y2="267.2" stroke-width="1.4"/><path d="M1412.6,267.2 L1403.5,264.6 L1403.5,269.8 Z"/><line x1="1432" y1="267.2" x2="1444.8" y2="267.2" stroke-width="1.4"/><path d="M1425.2,267.2 L1434.3,264.6 L1434.3,269.8 Z"/></g>
<text x="1384.7" y="163.8" font-size="18.7" fill="#444" textLength="62.5" lengthAdjust="spacingAndGlyphs">FWHM:</text>
<text x="1384.7" y="189.5" font-size="18.7" fill="#444">0.64 μm<tspan font-size="11" dy="-9">-1</tspan></text>
<text transform="translate(1302.3,300.5) rotate(-90)" font-size="30" font-weight="bold" fill="#111" textLength="179" lengthAdjust="spacingAndGlyphs">Counts (a.u.)</text>
<g font-weight="bold" fill="#111" font-size="27"><text x="1361.5" y="432.7" textLength="149.5" lengthAdjust="spacingAndGlyphs">Reciprocal</text><text x="1521.5" y="432.7" textLength="84.5" lengthAdjust="spacingAndGlyphs">space</text><text x="1615.5" y="432.7" textLength="53" lengthAdjust="spacingAndGlyphs">(μm</text><text x="1670" y="420" font-size="16" textLength="14.5" lengthAdjust="spacingAndGlyphs">-1</text><text x="1683" y="432.7" textLength="9" lengthAdjust="spacingAndGlyphs">)</text></g>
<text x="1259" y="43.5" font-family="'Liberation Serif', 'Times New Roman', serif" font-size="36.5" fill="#111" textLength="43" lengthAdjust="spacingAndGlyphs">(c)</text>
<clipPath id="hmclip"><rect x="890.8" y="515.7" width="713.8" height="177.3"/></clipPath>
<filter id="hb6" x="-50%" y="-50%" width="200%" height="200%"><feGaussianBlur stdDeviation="6"/></filter>
<filter id="hb5" x="-50%" y="-50%" width="200%" height="200%"><feGaussianBlur stdDeviation="5"/></filter>
<filter id="hb4" x="-50%" y="-50%" width="200%" height="200%"><feGaussianBlur stdDeviation="4"/></filter>
<filter id="hb3" x="-50%" y="-50%" width="200%" height="200%"><feGaussianBlur stdDeviation="3"/></filter>
<filter id="hb10" x="-50%" y="-50%" width="200%" height="200%"><feGaussianBlur stdDeviation="12"/></filter>
<g clip-path="url(#hmclip)">
<rect x="890.8" y="515.7" width="713.8" height="177.3" fill="#3d3493"/>
<g filter="url(#hb10)"><ellipse cx="1170" cy="610" rx="200" ry="50" fill="#4a4ea8" opacity="0.6"/><ellipse cx="1300" cy="612" rx="110" ry="50" fill="#4a4ea8" opacity="0.5"/><ellipse cx="1380" cy="612" rx="240" ry="62" fill="#4c48a0" opacity="0.6"/><ellipse cx="1235" cy="612" rx="90" ry="55" fill="#4a60b4" opacity="0.7"/></g>
<filter id="streakF" color-interpolation-filters="sRGB" filterUnits="userSpaceOnUse" x="890.8" y="515.7" width="713.8" height="177.3"><feTurbulence type="fractalNoise" baseFrequency="0.45 0.022" numOctaves="2" seed="5"/><feColorMatrix type="matrix" values="0 0 0 0 0.38  0 0 0 0 0.37  0 0 0 0 0.78  1.6 0 0 0 -0.62"/></filter>
<filter id="streakD" color-interpolation-filters="sRGB" filterUnits="userSpaceOnUse" x="890.8" y="515.7" width="713.8" height="177.3"><feTurbulence type="fractalNoise" baseFrequency="0.4 0.02" numOctaves="2" seed="11"/><feColorMatrix type="matrix" values="0 0 0 0 0.16  0 0 0 0 0.1  0 0 0 0 0.45  1.6 0 0 0 -0.62"/></filter>
<rect x="890.8" y="515.7" width="713.8" height="177.3" filter="url(#streakF)" opacity="0.4"/>
<rect x="890.8" y="515.7" width="713.8" height="177.3" filter="url(#streakD)" opacity="0.6"/>
<g filter="url(#hb6)"><ellipse cx="1218" cy="603" rx="8.5" ry="56" fill="#2ea4e0" opacity="0.95" transform="rotate(-13 1218 603)"/><ellipse cx="1190" cy="611" rx="9" ry="42" fill="#3896da" opacity="0.9" transform="rotate(-13 1190 611)"/><ellipse cx="1160" cy="606" rx="9" ry="36" fill="#4086d0" opacity="0.8" transform="rotate(-13 1160 606)"/><ellipse cx="1130" cy="603" rx="9.5" ry="38" fill="#4676c6" opacity="0.66" transform="rotate(-13 1130 603)"/><ellipse cx="1097" cy="607" rx="10" ry="42" fill="#4a6abb" opacity="0.55" transform="rotate(-13 1097 607)"/><ellipse cx="1067" cy="615" rx="10" ry="40" fill="#4a62b2" opacity="0.45" transform="rotate(-13 1067 615)"/><ellipse cx="1035" cy="612" rx="10" ry="38" fill="#4a5eae" opacity="0.35" transform="rotate(-13 1035 612)"/><ellipse cx="1003" cy="612" rx="10" ry="36" fill="#4a5aaa" opacity="0.18" transform="rotate(-13 1003 612)"/><ellipse cx="972" cy="612" rx="10" ry="32" fill="#4a58a8" opacity="0.1" transform="rotate(-13 972 612)"/><ellipse cx="1284" cy="596" rx="8.5" ry="58" fill="#2ea2e0" opacity="0.9" transform="rotate(-13 1284 596)"/><ellipse cx="1310" cy="611" rx="9" ry="38" fill="#3a90d8" opacity="0.8" transform="rotate(-13 1310 611)"/><ellipse cx="1336" cy="612" rx="9" ry="26" fill="#4080cc" opacity="0.62" transform="rotate(-13 1336 612)"/><ellipse cx="1362" cy="608" rx="10" ry="30" fill="#4a70c0" opacity="0.4" transform="rotate(-13 1362 608)"/><ellipse cx="1390" cy="610" rx="10" ry="30" fill="#4a64b4" opacity="0.25" transform="rotate(-13 1390 610)"/><ellipse cx="1418" cy="610" rx="10" ry="28" fill="#4a5cae" opacity="0.15" transform="rotate(-13 1418 610)"/></g>
<g filter="url(#hb4)"><ellipse cx="1245.5" cy="545" rx="21" ry="48" fill="#2aa8de"/><ellipse cx="1237" cy="603" rx="19" ry="32" fill="#2ca6dc" transform="rotate(15 1237 603)"/><ellipse cx="1249" cy="668" rx="22" ry="50" fill="#2aa8de"/><ellipse cx="1281" cy="586" rx="10" ry="52" fill="#30a2e0" transform="rotate(-13 1281 586)"/><ellipse cx="1270" cy="640" rx="10" ry="22" fill="#34a0dc"/><ellipse cx="1263" cy="613" rx="6" ry="14" fill="#4a6cbe"/></g>
<g filter="url(#hb3)"><ellipse cx="1246.7" cy="534" rx="14" ry="50" fill="#58b888"/><ellipse cx="1246.7" cy="530" rx="12" ry="45" fill="#b0c038"/><ellipse cx="1246.7" cy="527" rx="11" ry="42" fill="#f0a838"/><ellipse cx="1246.7" cy="522" rx="10" ry="38" fill="#f8e020"/><ellipse cx="1250.3" cy="684" rx="14" ry="42" fill="#58b888"/><ellipse cx="1250.3" cy="688" rx="12" ry="38" fill="#b0c038"/><ellipse cx="1250.3" cy="691" rx="11" ry="35" fill="#f0a838"/><ellipse cx="1250.3" cy="695" rx="10" ry="32" fill="#f8e020"/></g>
</g>
<rect x="890.8" y="515.7" width="713.8" height="177.3" fill="none" stroke="#262626" stroke-width="1.3"/>
<line x1="995.7" y1="515.7" x2="995.7" y2="507.70000000000005" stroke="#262626" stroke-width="1.3"/>
<line x1="995.7" y1="693.0" x2="995.7" y2="701.0" stroke="#262626" stroke-width="1.3"/>
<text x="995.9" y="737.9" font-size="23" text-anchor="middle" fill="#262626" textLength="36.5" lengthAdjust="spacingAndGlyphs">-20</text>
<line x1="1121.5" y1="515.7" x2="1121.5" y2="507.70000000000005" stroke="#262626" stroke-width="1.3"/>
<line x1="1121.5" y1="693.0" x2="1121.5" y2="701.0" stroke="#262626" stroke-width="1.3"/>
<text x="1121.7" y="737.9" font-size="23" text-anchor="middle" fill="#262626" textLength="36.5" lengthAdjust="spacingAndGlyphs">-10</text>
<line x1="1247.3" y1="515.7" x2="1247.3" y2="507.70000000000005" stroke="#262626" stroke-width="1.3"/>
<line x1="1247.3" y1="693.0" x2="1247.3" y2="701.0" stroke="#262626" stroke-width="1.3"/>
<text x="1247.5" y="737.9" font-size="23" text-anchor="middle" fill="#262626">0</text>
<line x1="1373.1" y1="515.7" x2="1373.1" y2="507.70000000000005" stroke="#262626" stroke-width="1.3"/>
<line x1="1373.1" y1="693.0" x2="1373.1" y2="701.0" stroke="#262626" stroke-width="1.3"/>
<text x="1373.3" y="737.9" font-size="23" text-anchor="middle" fill="#262626" textLength="29.5" lengthAdjust="spacingAndGlyphs">10</text>
<line x1="1498.9" y1="515.7" x2="1498.9" y2="507.70000000000005" stroke="#262626" stroke-width="1.3"/>
<line x1="1498.9" y1="693.0" x2="1498.9" y2="701.0" stroke="#262626" stroke-width="1.3"/>
<text x="1499.1" y="737.9" font-size="23" text-anchor="middle" fill="#262626" textLength="29.5" lengthAdjust="spacingAndGlyphs">20</text>
<line x1="882.8" y1="541" x2="890.8" y2="541" stroke="#262626" stroke-width="1.3"/>
<line x1="1604.6" y1="541" x2="1612.6" y2="541" stroke="#262626" stroke-width="1.3"/>
<text x="873" y="551.6" font-size="23" text-anchor="end" fill="#262626" letter-spacing="1.3">0.5</text>
<line x1="882.8" y1="611.6" x2="890.8" y2="611.6" stroke="#262626" stroke-width="1.3"/>
<line x1="1604.6" y1="611.6" x2="1612.6" y2="611.6" stroke="#262626" stroke-width="1.3"/>
<text x="873" y="621.8" font-size="23" text-anchor="end" fill="#262626" letter-spacing="1.3">0</text>
<line x1="882.8" y1="680.7" x2="890.8" y2="680.7" stroke="#262626" stroke-width="1.3"/>
<line x1="1604.6" y1="680.7" x2="1612.6" y2="680.7" stroke="#262626" stroke-width="1.3"/>
<text x="873" y="689.8" font-size="23" text-anchor="end" fill="#262626" letter-spacing="1.3">-0.5</text>
<linearGradient id="cbar" x1="0" y1="1" x2="0" y2="0"><stop offset="0" stop-color="#3c3498"/><stop offset="0.07" stop-color="#4444a0"/><stop offset="0.14" stop-color="#4858a8"/><stop offset="0.21" stop-color="#4868b0"/><stop offset="0.28" stop-color="#4080c0"/><stop offset="0.35" stop-color="#3898d8"/><stop offset="0.42" stop-color="#28a8e0"/><stop offset="0.49" stop-color="#20b0c8"/><stop offset="0.55" stop-color="#30b0a8"/><stop offset="0.62" stop-color="#68b478"/><stop offset="0.69" stop-color="#a0c040"/><stop offset="0.76" stop-color="#d8c818"/><stop offset="0.83" stop-color="#f8a838"/><stop offset="0.9" stop-color="#f8c830"/><stop offset="1" stop-color="#f8e81a"/></linearGradient>
<rect x="1632.2" y="515.7" width="48" height="178.2" fill="url(#cbar)" stroke="#262626" stroke-width="1.3"/>
<text x="1690" y="524" font-size="23" fill="#262626">1</text>
<text x="1689" y="703.4" font-size="23" fill="#262626">0</text>
<text transform="translate(815.2,661) rotate(-90)" font-size="27" fill="#262626" textLength="111" lengthAdjust="spacingAndGlyphs">Time (ps)</text>
<text x="1148" y="773.6" font-size="22.3" fill="#262626" textLength="199" lengthAdjust="spacingAndGlyphs">Energy loss (eV)</text>
<text x="776.5" y="524.5" font-family="'Liberation Serif', 'Times New Roman', serif" font-size="34" fill="#111" textLength="46" lengthAdjust="spacingAndGlyphs">(d)</text>
</svg>
</body></html>
